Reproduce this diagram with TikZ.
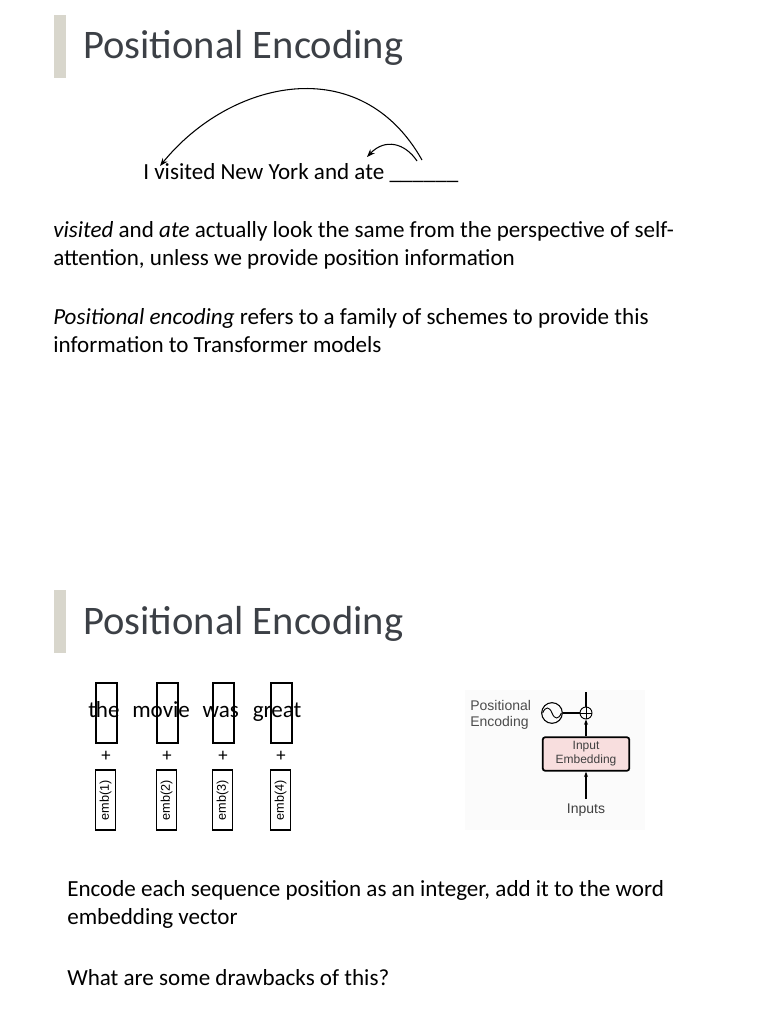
\documentclass[tikz,border=0pt]{standalone}
\usepackage{fontspec}
\setmainfont{Carlito}
\newfontfamily\arialf{Liberation Sans}
\usetikzlibrary{arrows.meta}
\definecolor{barc}{RGB}{216,214,204}
\definecolor{titc}{RGB}{60,64,70}
\definecolor{pinkc}{RGB}{248,222,222}
\begin{document}
\begin{tikzpicture}[x=0.75pt,y=-0.75pt,
  title/.style={anchor=west,font=\fontsize{30.4}{34}\selectfont,text=titc,inner sep=0},
  body/.style={anchor=west,font=\fontsize{17.3}{21}\selectfont,inner sep=0,align=left},
  wbox/.style={draw,line width=0.8pt,inner sep=0},
  arr/.style={-{Stealth[length=6pt]},line width=0.8pt}]
\useasboundingbox (0,0) rectangle (768,1024);
% slide 1
\fill[barc] (54,15) rectangle (66,78);
\node[title] (t1) at (83,48) {Positional Encoding};
\node[body] (s) at (143,173) {I visited New York and ate \_\_\_\_\_\_};
\coordinate (a0) at (422,160); \coordinate (a1) at (417,161);
\coordinate (v) at (160,166); \coordinate (e) at (367,157);
\draw[arr] (a0) .. controls (360,50) and (230,80) .. (v);
\draw[arr] (a1) .. controls (405,143) and (385,138) .. (e);
\node[body] (p1) at (53,245) {\textit{visited} and \textit{ate} actually look the same from the perspective of self-\\attention, unless we provide position information};
\node[body] (p2) at (53,331) {\textit{Positional encoding} refers to a family of schemes to provide this\\information to Transformer models};
% slide 2
\fill[barc] (54,590) rectangle (66,653);
\node[title] (t2) at (83,624) {Positional Encoding};
\node[anchor=base west,inner sep=0,font=\fontsize{17.3}{18}\selectfont] (w) at (88,717) {the\hspace{0.55em}movie\hspace{0.55em}was\hspace{0.6em}great};
\foreach \x/\n in {96/1,157/2,213/3,271/4}{
  \draw[line width=0.8pt] (\x,683) rectangle (\x+21,743);
  \node[font=\fontsize{14}{14}\selectfont,inner sep=0] (pl\n) at (\x+10,756) {+};
  \node[wbox,minimum width=45pt,minimum height=15pt,rotate=90,font=\arialf\fontsize{9.5}{10}\selectfont] (emb\n) at (\x+9.5,800) {emb(\n)};
}
% transformer excerpt
\fill[gray!3] (465,690) rectangle (645,830);
\node[anchor=west,align=left,inner sep=0,text=black!70,font=\arialf\fontsize{10.5}{12.5}\selectfont] (pe) at (470,715) {Positional\\Encoding};
\node[draw,circle,line width=0.8pt,minimum size=15.5pt,inner sep=0] (sin) at (552,713) {};
\draw[line width=0.7pt] ([xshift=-7pt]sin.center) .. controls +(2pt,5pt) and +(-2pt,5pt) .. (sin.center) .. controls +(2pt,-5pt) and +(-2pt,-5pt) .. ([xshift=7pt]sin.center);
\node[draw,circle,line width=0.7pt,minimum size=9pt,inner sep=0] (plus) at (586,713) {};
\draw[line width=0.6pt] (plus.north)--(plus.south) (plus.west)--(plus.east);
\draw[line width=0.8pt] (sin) -- (plus);
\node[draw,line width=1.3pt,rounded corners=2pt,fill=pinkc,minimum width=65pt,minimum height=25pt,align=center,text=black!75,font=\arialf\fontsize{9}{10.5}\selectfont] (ie) at (586,754) {Input\\Embedding};
\coordinate (top) at (586,692);
\draw[arr,-{Stealth[length=4pt]}] (ie) -- (plus);
\draw[line width=0.8pt] (plus) -- (top);
\node[text=black!75,font=\arialf\fontsize{10.5}{12}\selectfont] (in) at (586,810) {Inputs};
\draw[arr,-{Stealth[length=4pt]}] (in.north) -- (ie.south);
\node[body] (p3) at (67,904) {Encode each sequence position as an integer, add it to the word\\embedding vector};
\node[body] (p4) at (67,978) {What are some drawbacks of this?};
\end{tikzpicture}
\end{document}
